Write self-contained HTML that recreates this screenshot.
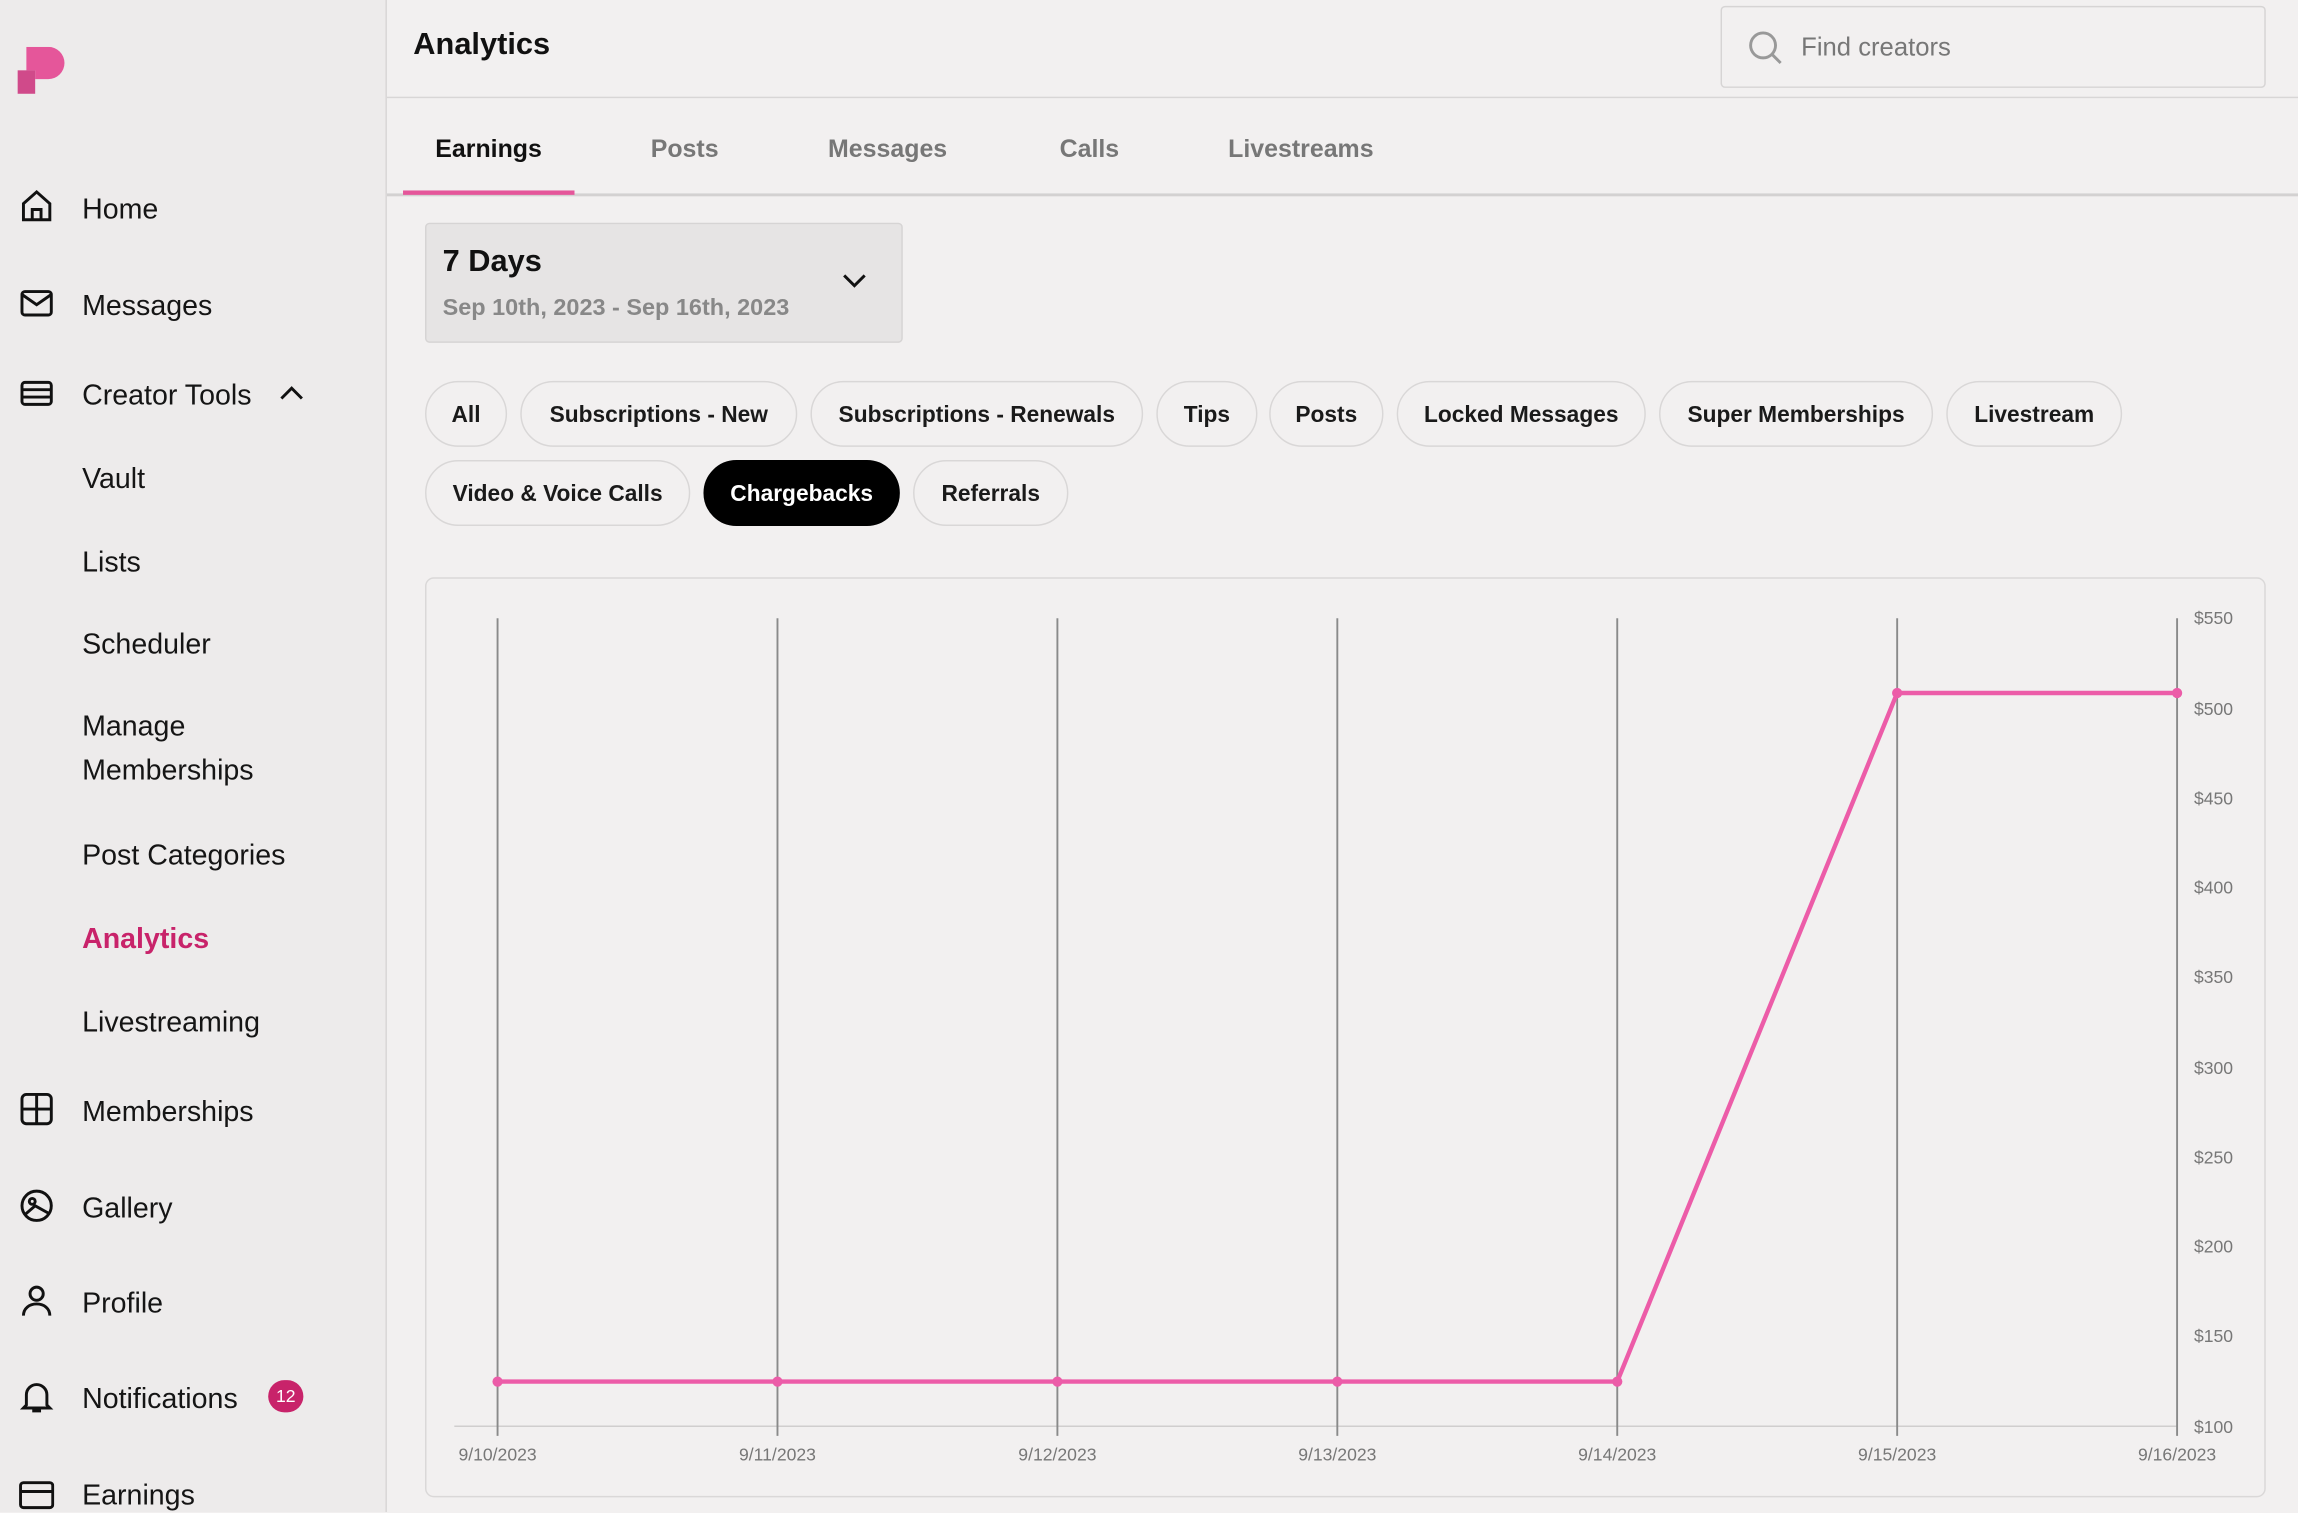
<!DOCTYPE html>
<html><head><meta charset="utf-8"><style>
*{margin:0;padding:0;box-sizing:border-box}
body{width:2298px;height:1512px;overflow:hidden;background:#f2f0f0;font-family:"Liberation Sans",sans-serif}
#w{width:1568px;height:1032px;transform:scale(1.46556,1.46512);transform-origin:0 0;position:relative;color:#111}
.sb{position:absolute;left:0;top:0;width:264px;height:1032px;background:#edebeb;border-right:1px solid #d8d6d6}
.it{position:absolute;left:56px;font-size:19.5px;color:#151515;margin-top:2px}
.ic{position:absolute;left:13px;width:24px;height:24px}
.pill{position:absolute;height:45px;border:1px solid #d9d7d7;border-radius:23px;font-size:15.5px;font-weight:bold;line-height:45px;text-align:center;color:#1a1a1a;background:#f2f0f0}
.tab{position:absolute;top:92px;font-size:17px;font-weight:bold;color:#777}
</style></head><body><div id="w">
<div class="sb">
<svg style="position:absolute;left:12px;top:32px" width="34" height="34" viewBox="0 0 34 34"><path d="M6 0h15a11 11 0 0 1 0 22H12V16H6z" fill="#e5569a"/><rect x="0" y="16" width="12" height="16" fill="#d04a8a"/></svg>
<svg class="ic" style="top:129px" viewBox="0 0 24 24" fill="none" stroke="#111" stroke-width="2"><path d="M3 10l9-8 9 8v11H3z M9 21v-7h6v7"/></svg>
<div class="it" style="top:130px">Home</div>
<svg class="ic" style="top:195px" viewBox="0 0 24 24" fill="none" stroke="#111" stroke-width="2"><rect x="2" y="4" width="20" height="16" rx="2"/><path d="M2 6l10 7 10-7"/></svg>
<div class="it" style="top:196px">Messages</div>
<svg class="ic" style="top:256px" viewBox="0 0 24 24" fill="none" stroke="#111" stroke-width="2"><rect x="2" y="5" width="20" height="15" rx="2"/><path d="M2 10h20M2 15h20"/></svg>
<div class="it" style="top:257px">Creator Tools</div>
<svg style="position:absolute;left:190px;top:262px" width="18" height="12" viewBox="0 0 18 12"><path d="M2 10l7-7 7 7" fill="none" stroke="#111" stroke-width="2"/></svg>
<div class="it" style="top:314px">Vault</div>
<div class="it" style="top:371px">Lists</div>
<div class="it" style="top:427px">Scheduler</div>
<div class="it" style="top:484px;line-height:30px;margin-top:-3px">Manage<br>Memberships</div>
<div class="it" style="top:571px">Post Categories</div>
<div class="it" style="top:628px;color:#c8236a;font-weight:bold">Analytics</div>
<div class="it" style="top:685px">Livestreaming</div>
<svg class="ic" style="top:745px" viewBox="0 0 24 24" fill="none" stroke="#111" stroke-width="2"><rect x="2" y="2" width="20" height="20" rx="3"/><path d="M12 2v20M2 12h20"/></svg>
<div class="it" style="top:746px">Memberships</div>
<svg class="ic" style="top:811px" viewBox="0 0 24 24" fill="none" stroke="#111" stroke-width="2"><circle cx="12" cy="12" r="10"/><circle cx="9" cy="9" r="2"/><path d="M4 18l7-6 9 5"/></svg>
<div class="it" style="top:812px">Gallery</div>
<svg class="ic" style="top:876px" viewBox="0 0 24 24" fill="none" stroke="#111" stroke-width="2"><circle cx="12" cy="7" r="4.5"/><path d="M3 22c0-5 4-8 9-8s9 3 9 8"/></svg>
<div class="it" style="top:877px">Profile</div>
<svg class="ic" style="top:942px" viewBox="0 0 24 24" fill="none" stroke="#111" stroke-width="2"><path d="M5 17V10a7 7 0 0 1 14 0v7l2 2H3z M9 21h6"/></svg>
<div class="it" style="top:942px">Notifications</div>
<div style="position:absolute;left:183px;top:942px;width:24px;height:22px;border-radius:11px;background:#c8236a;color:#fff;font-size:12px;text-align:center;line-height:22px">12</div>
<svg class="ic" style="top:1008px" viewBox="0 0 24 24" fill="none" stroke="#111" stroke-width="2"><rect x="1" y="4" width="22" height="17" rx="2"/><path d="M1 10h22"/></svg>
<div class="it" style="top:1008px">Earnings</div>
</div>
<div style="position:absolute;left:282px;top:19px;font-size:21px;font-weight:bold">Analytics</div>
<div style="position:absolute;left:1174px;top:4px;width:372px;height:56px;border:1px solid #d6d4d4;border-radius:3px"></div>
<svg style="position:absolute;left:1192px;top:20px" width="26" height="26" viewBox="0 0 26 26"><circle cx="11" cy="11" r="8.5" fill="none" stroke="#999" stroke-width="2"/><path d="M17 17l6 6" stroke="#999" stroke-width="2"/></svg>
<div style="position:absolute;left:1229px;top:22px;font-size:17.5px;color:#777">Find creators</div>
<div style="position:absolute;left:264px;top:66px;width:1304px;height:1px;background:#d8d6d6"></div>
<div style="position:absolute;left:264px;top:132px;width:1304px;height:2px;background:#d3d1d1"></div>
<div class="tab" style="left:297px;color:#111">Earnings</div>
<div style="position:absolute;left:275px;top:130px;width:117px;height:3px;background:#e5569a"></div>
<div class="tab" style="left:444px">Posts</div>
<div class="tab" style="left:565px">Messages</div>
<div class="tab" style="left:723px">Calls</div>
<div class="tab" style="left:838px">Livestreams</div>
<div style="position:absolute;left:290px;top:152px;width:326px;height:82px;background:#e6e4e4;border:1px solid #d6d4d4;border-radius:3px"></div>
<div style="position:absolute;left:302px;top:167px;font-size:21px;font-weight:bold">7 Days</div>
<div style="position:absolute;left:302px;top:202px;font-size:16px;font-weight:bold;color:#888">Sep 10th, 2023 - Sep 16th, 2023</div>
<svg style="position:absolute;left:574px;top:185px" width="18" height="12" viewBox="0 0 18 12"><path d="M2 3l7 7 7-7" fill="none" stroke="#111" stroke-width="2"/></svg>
<div class="pill" style="left:290px;top:260px;width:56px">All</div>
<div class="pill" style="left:355px;top:260px;width:189px">Subscriptions - New</div>
<div class="pill" style="left:553px;top:260px;width:227px">Subscriptions - Renewals</div>
<div class="pill" style="left:789px;top:260px;width:69px">Tips</div>
<div class="pill" style="left:866px;top:260px;width:78px">Posts</div>
<div class="pill" style="left:953px;top:260px;width:170px">Locked Messages</div>
<div class="pill" style="left:1132px;top:260px;width:187px">Super Memberships</div>
<div class="pill" style="left:1328px;top:260px;width:120px">Livestream</div>
<div class="pill" style="left:290px;top:314px;width:181px">Video &amp; Voice Calls</div>
<div class="pill" style="left:480px;top:314px;width:134px;background:#000;color:#fff;border-color:#000">Chargebacks</div>
<div class="pill" style="left:623px;top:314px;width:106px">Referrals</div>
<div style="position:absolute;left:290px;top:394px;width:1256px;height:628px;border:1px solid #dad8d8;border-radius:6px"></div>
<svg style="position:absolute;left:0;top:0" width="1568" height="1032" font-family="Liberation Sans, sans-serif">
<line x1="310" y1="973.5" x2="1486" y2="973.5" stroke="#d0cece"/>
<g stroke="#8a8a8a" stroke-width="1.3">
<line x1="339.5" y1="422" x2="339.5" y2="980"/><line x1="530.5" y1="422" x2="530.5" y2="980"/><line x1="721.5" y1="422" x2="721.5" y2="980"/><line x1="912.5" y1="422" x2="912.5" y2="980"/><line x1="1103.5" y1="422" x2="1103.5" y2="980"/><line x1="1294.5" y1="422" x2="1294.5" y2="980"/><line x1="1485.5" y1="422" x2="1485.5" y2="980"/>
</g>
<polyline points="339.5,943 530.5,943 721.5,943 912.5,943 1103.5,943 1294.5,473 1485.5,473" fill="none" stroke="#ec5ca8" stroke-width="3"/>
<g fill="#ec5ca8"><circle cx="339.5" cy="943" r="3.5"/><circle cx="530.5" cy="943" r="3.5"/><circle cx="721.5" cy="943" r="3.5"/><circle cx="912.5" cy="943" r="3.5"/><circle cx="1103.5" cy="943" r="3.5"/><circle cx="1294.5" cy="473" r="3.5"/><circle cx="1485.5" cy="473" r="3.5"/></g>
<g font-size="12" fill="#777" text-anchor="middle">
<text x="339.5" y="997">9/10/2023</text><text x="530.5" y="997">9/11/2023</text><text x="721.5" y="997">9/12/2023</text><text x="912.5" y="997">9/13/2023</text><text x="1103.5" y="997">9/14/2023</text><text x="1294.5" y="997">9/15/2023</text><text x="1485.5" y="997">9/16/2023</text>
</g>
<g font-size="12" fill="#777">
<text x="1497" y="426">$550</text><text x="1497" y="488">$500</text><text x="1497" y="549">$450</text><text x="1497" y="610">$400</text><text x="1497" y="671">$350</text><text x="1497" y="733">$300</text><text x="1497" y="794">$250</text><text x="1497" y="855">$200</text><text x="1497" y="916">$150</text><text x="1497" y="978">$100</text>
</g>
</svg>
</div></body></html>
